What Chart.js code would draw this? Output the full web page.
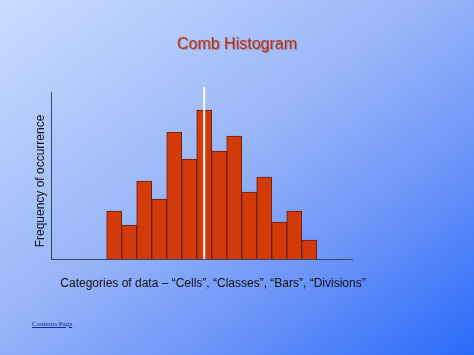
<!DOCTYPE html>
<html>
<head>
<meta charset="utf-8">
<script src="https://cdn.jsdelivr.net/npm/chart.js@4/dist/chart.umd.min.js"></script>
<style>
  html, body { margin: 0; padding: 0; }
  body {
    width: 474px; height: 355px; position: relative; overflow: hidden;
    background: linear-gradient(to bottom right, #c9dcff 0%, #9ab6f8 45%, #6e96f8 70%, #2a6af8 100%);
  }
  #wrap { position: absolute; left: 0; top: 0; width: 474px; height: 355px; }
  #contents {
    position: absolute; left: 32px; top: 320px;
    font: 7px "Liberation Serif", serif; color: #1a2a8a; text-decoration: underline;
  }
</style>
</head>
<body>
<div id="wrap"><canvas id="chart"></canvas></div>
<a id="contents">Contents Page</a>
<script>
// histogram data (heights)
const cells = [1, 2, 3, 4, 5, 6, 7, 8, 9, 10, 11, 12, 13, 14];
const freq = [48, 34, 78, 60, 127, 100, 149, 108, 123, 67, 82, 37, 48, 19];
const meanCell = 7;

const titleText = 'Comb Histogram';
const xTitle = 'Categories of data \u2013 \u201cCells\u201d, \u201cClasses\u201d, \u201cBars\u201d, \u201cDivisions\u201d';
const yTitle = 'Frequency of occurrence';

// draws the titles and the white mean line
const extras = {
  id: 'extras',
  afterDatasetsDraw(chart) {
    const ctx = chart.ctx;
    const x = chart.scales.x, y = chart.scales.y;
    ctx.save();
    // mean line
    const mx = x.getPixelForValue(meanCell);
    ctx.strokeStyle = '#ffffff';
    ctx.lineWidth = 2;
    ctx.beginPath();
    ctx.moveTo(mx, y.getPixelForValue(y.max) - 5);
    ctx.lineTo(mx, y.getPixelForValue(0));
    ctx.stroke();

    ctx.textAlign = 'center';
    ctx.textBaseline = 'middle';
    // title
    ctx.font = '16px "Liberation Sans", Arial, sans-serif';
    ctx.fillStyle = 'rgba(90,30,20,0.35)';
    ctx.fillText(titleText, 238, 46);
    ctx.fillStyle = '#c0300c';
    ctx.fillText(titleText, 237, 45);
    // x label
    ctx.font = '12px "Liberation Sans", Arial, sans-serif';
    ctx.fillStyle = '#111111';
    ctx.fillText(xTitle, 213, 284);
    // y label
    ctx.translate(41, 181);
    ctx.rotate(-Math.PI / 2);
    ctx.fillText(yTitle, 0, 0);
    ctx.restore();
  }
};

new Chart(document.getElementById('chart'), {
  type: 'bar',
  data: {
    datasets: [{
      data: cells.map((c, i) => ({ x: c, y: freq[i] })),
      backgroundColor: '#d23a08',
      borderColor: '#6a2010',
      borderWidth: 1,
      barPercentage: 1,
      categoryPercentage: 1
    }]
  },
  options: {
    responsive: true,
    maintainAspectRatio: false,
    animation: false,
    layout: { padding: { left: 51, top: 92, right: 122, bottom: 96 } },
    plugins: { legend: { display: false }, tooltip: { enabled: false }, title: { display: false } },
    scales: {
      x: {
        type: 'linear', min: -3.21, max: 16.85, offset: false,
        ticks: { display: false },
        grid: { display: false, drawTicks: false },
        border: { display: true, color: '#3a4660', width: 1 }
      },
      y: {
        min: 0, max: 167,
        ticks: { display: false },
        grid: { display: false, drawTicks: false },
        border: { display: true, color: '#3a4660', width: 1 }
      }
    }
  },
  plugins: [extras]
});
</script>
</body>
</html>
